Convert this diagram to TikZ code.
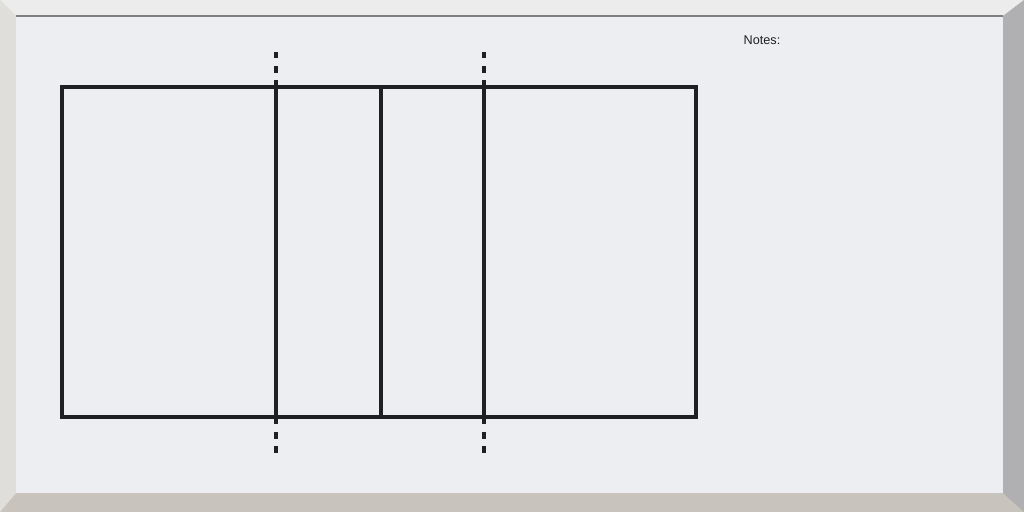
\documentclass[tikz,border=0pt]{standalone}
\usepackage{fontspec}
\setmainfont{Liberation Sans}
\definecolor{boardwhite}{RGB}{236,238,241}
\definecolor{frametop}{RGB}{236,236,236}
\definecolor{frameleft}{RGB}{224,222,218}
\definecolor{frameright}{RGB}{176,176,178}
\definecolor{framebottom}{RGB}{200,195,188}
\definecolor{courtline}{RGB}{30,32,36}
\begin{document}
\begin{tikzpicture}[x=0.02cm, y=-0.02cm,
    court/.style={draw=courtline, line width=0.07cm},
    attack/.style={draw=courtline, line width=0.07cm, dash pattern=on 0.14cm off 0.15cm}]
    \useasboundingbox (0,0) rectangle (1024,512);

    % Frame of the board
    \fill[framebottom] (0,0) rectangle (1024,512);
    \fill[frametop] (0,0) -- (1024,0) -- (1003,16) -- (16,16) -- cycle;
    \fill[frameleft] (0,0) -- (16,16) -- (16,493) -- (0,512) -- cycle;
    \fill[frameright] (1024,0) -- (1003,16) -- (1003,493) -- (1024,512) -- cycle;
    \fill[boardwhite] (16,16) rectangle (1003,493);
    \draw[gray, line width=0.03cm] (16,16) -- (1003,16);

    % Court corners and net
    \coordinate (tl) at (62,87);
    \coordinate (br) at (696,417);
    \coordinate (nettop) at (381,87);
    \coordinate (netbot) at (381,417);

    % Attack lines
    \coordinate (lefttop) at (276,87);
    \coordinate (leftbot) at (276,417);
    \coordinate (righttop) at (484,87);
    \coordinate (rightbot) at (484,417);

    % Ends of the dashed extensions
    \coordinate (leftup) at (276,52);
    \coordinate (leftdown) at (276,455);
    \coordinate (rightup) at (484,52);
    \coordinate (rightdown) at (484,455);

    \draw[court] (tl) rectangle (br);
    \draw[court] (nettop) -- (netbot);
    \draw[court] (lefttop) -- (leftbot);
    \draw[court] (righttop) -- (rightbot);

    \draw[attack] (lefttop) -- (leftup);
    \draw[attack] (leftbot) -- (leftdown);
    \draw[attack] (righttop) -- (rightup);
    \draw[attack] (rightbot) -- (rightdown);

    % Notes heading
    \node[font=\fontsize{7.2}{8}\selectfont, text=courtline, inner sep=0pt] (notes) at (762,40) {Notes:};
\end{tikzpicture}
\end{document}
